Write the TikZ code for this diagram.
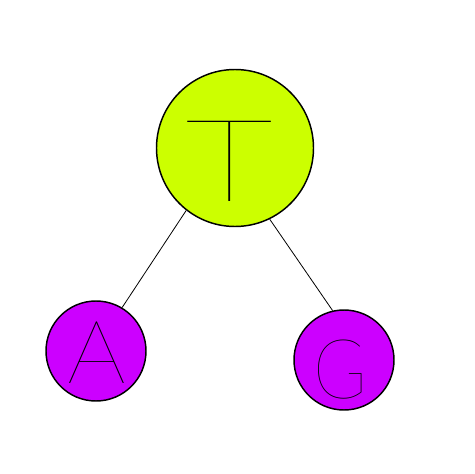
\documentclass[tikz,border=0pt]{standalone}
\usepackage{fontspec}
\newfontfamily\handfont{Lato Thin}

\definecolor{limefill}{RGB}{204,255,0}
\definecolor{violetfill}{RGB}{204,0,255}

\tikzset{every picture/.style={line width=0.75pt}}
\tikzset{
  bigball/.style={circle, draw, line width=1.1pt, fill=limefill, minimum size=117.75pt, inner sep=0pt},
  smallball/.style={circle, draw, line width=1.1pt, fill=violetfill, minimum size=75pt, inner sep=0pt},
  letter/.style={inner sep=0pt, font=\handfont}
}

\begin{document}
\begin{tikzpicture}[x=0.75pt,y=0.75pt,yscale=-1,xscale=1]
\useasboundingbox (0,0) rectangle (474,474);

% Circles
\node [bigball] (t) at (235,148) {};
\node [smallball] (a) at (96,351) {};
\node [smallball] (g) at (344,360) {};

%Straight Lines
\draw [line width=0.6pt] (t.232) -- (a.59) ;
\draw [line width=0.6pt] (t.296) -- (g.103) ;

% Text Node
\node [letter, xscale=1.35, font=\handfont\fontsize{86}{86}\selectfont] (tl) at (230,161) {T};
% Text Node
\node [letter, xscale=1.05, font=\handfont\fontsize{66}{66}\selectfont] (al) at (97,353) {A};
% Text Node
\node [letter, xscale=0.88, font=\handfont\fontsize{62}{62}\selectfont] (gl) at (340,370) {G};

\end{tikzpicture}
\end{document}
